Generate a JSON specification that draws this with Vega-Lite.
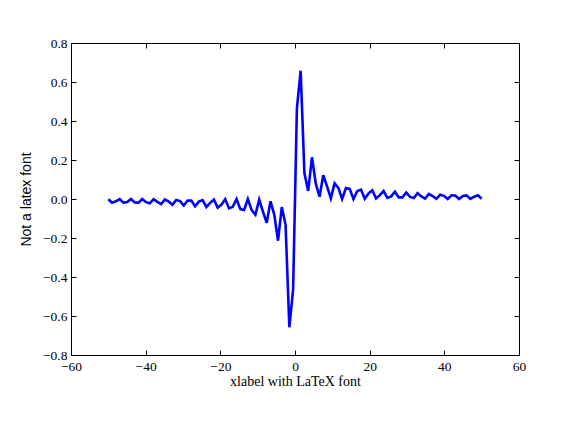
{
  "$schema": "https://vega.github.io/schema/vega-lite/v6.json",
  "width": 448,
  "height": 312,
  "autosize": {"type": "none"},
  "padding": {"left": 71, "top": 43, "right": 59, "bottom": 79},
  "background": "white",
  "config": {
    "view": {"stroke": "black", "strokeWidth": 1},
    "axis": {
      "domain": false,
      "grid": false,
      "ticks": true,
      "tickColor": "black",
      "tickSize": -5,
      "tickWidth": 1,
      "labelFont": "Liberation Serif",
      "labelFontSize": 13.5,
      "labelColor": "black",
      "labelFlush": false,
      "labelOverlap": false
    }
  },
  "data": {
    "values": [
      {"x": -50.000, "y": -0.0014},
      {"x": -48.990, "y": -0.0187},
      {"x": -47.980, "y": -0.0119},
      {"x": -46.970, "y": -0.0005},
      {"x": -45.960, "y": -0.0184},
      {"x": -44.949, "y": -0.0151},
      {"x": -43.939, "y": -0.0000},
      {"x": -42.929, "y": -0.0176},
      {"x": -41.919, "y": -0.0185},
      {"x": -40.909, "y": -0.0001},
      {"x": -39.899, "y": -0.0164},
      {"x": -38.889, "y": -0.0222},
      {"x": -37.879, "y": -0.0008},
      {"x": -36.869, "y": -0.0148},
      {"x": -35.859, "y": -0.0259},
      {"x": -34.848, "y": -0.0024},
      {"x": -33.838, "y": -0.0128},
      {"x": -32.828, "y": -0.0297},
      {"x": -31.818, "y": -0.0048},
      {"x": -30.808, "y": -0.0106},
      {"x": -29.798, "y": -0.0335},
      {"x": -28.788, "y": -0.0084},
      {"x": -27.778, "y": -0.0082},
      {"x": -26.768, "y": -0.0372},
      {"x": -25.758, "y": -0.0133},
      {"x": -24.747, "y": -0.0057},
      {"x": -23.737, "y": -0.0408},
      {"x": -22.727, "y": -0.0198},
      {"x": -21.717, "y": -0.0034},
      {"x": -20.707, "y": -0.0444},
      {"x": -19.697, "y": -0.0285},
      {"x": -18.687, "y": -0.0014},
      {"x": -17.677, "y": -0.0481},
      {"x": -16.667, "y": -0.0402},
      {"x": -15.657, "y": -0.0002},
      {"x": -14.646, "y": -0.0520},
      {"x": -13.636, "y": -0.0564},
      {"x": -12.626, "y": -0.0003},
      {"x": -11.616, "y": -0.0570},
      {"x": -10.606, "y": -0.0807},
      {"x": -9.596, "y": -0.0030},
      {"x": -8.586, "y": -0.0645},
      {"x": -7.576, "y": -0.1220},
      {"x": -6.566, "y": -0.0118},
      {"x": -5.556, "y": -0.0796},
      {"x": -4.545, "y": -0.2139},
      {"x": -3.535, "y": -0.0416},
      {"x": -2.525, "y": -0.1323},
      {"x": -1.515, "y": -0.6580},
      {"x": -0.505, "y": -0.4635},
      {"x": 0.505, "y": 0.4635},
      {"x": 1.515, "y": 0.6580},
      {"x": 2.525, "y": 0.1323},
      {"x": 3.535, "y": 0.0416},
      {"x": 4.545, "y": 0.2139},
      {"x": 5.556, "y": 0.0796},
      {"x": 6.566, "y": 0.0118},
      {"x": 7.576, "y": 0.1220},
      {"x": 8.586, "y": 0.0645},
      {"x": 9.596, "y": 0.0030},
      {"x": 10.606, "y": 0.0807},
      {"x": 11.616, "y": 0.0570},
      {"x": 12.626, "y": 0.0003},
      {"x": 13.636, "y": 0.0564},
      {"x": 14.646, "y": 0.0520},
      {"x": 15.657, "y": 0.0002},
      {"x": 16.667, "y": 0.0402},
      {"x": 17.677, "y": 0.0481},
      {"x": 18.687, "y": 0.0014},
      {"x": 19.697, "y": 0.0285},
      {"x": 20.707, "y": 0.0444},
      {"x": 21.717, "y": 0.0034},
      {"x": 22.727, "y": 0.0198},
      {"x": 23.737, "y": 0.0408},
      {"x": 24.747, "y": 0.0057},
      {"x": 25.758, "y": 0.0133},
      {"x": 26.768, "y": 0.0372},
      {"x": 27.778, "y": 0.0082},
      {"x": 28.788, "y": 0.0084},
      {"x": 29.798, "y": 0.0335},
      {"x": 30.808, "y": 0.0106},
      {"x": 31.818, "y": 0.0048},
      {"x": 32.828, "y": 0.0297},
      {"x": 33.838, "y": 0.0128},
      {"x": 34.848, "y": 0.0024},
      {"x": 35.859, "y": 0.0259},
      {"x": 36.869, "y": 0.0148},
      {"x": 37.879, "y": 0.0008},
      {"x": 38.889, "y": 0.0222},
      {"x": 39.899, "y": 0.0164},
      {"x": 40.909, "y": 0.0001},
      {"x": 41.919, "y": 0.0185},
      {"x": 42.929, "y": 0.0176},
      {"x": 43.939, "y": 0.0000},
      {"x": 44.949, "y": 0.0151},
      {"x": 45.960, "y": 0.0184},
      {"x": 46.970, "y": 0.0005},
      {"x": 47.980, "y": 0.0119},
      {"x": 48.990, "y": 0.0187},
      {"x": 50.000, "y": 0.0014}
    ]
  },
  "layer": [
    {
      "mark": {"type": "line", "color": "#0000ff", "strokeWidth": 2.6},
      "encoding": {
        "x": {
          "field": "x",
          "type": "quantitative",
          "scale": {"domain": [-60, 60], "nice": false, "zero": false},
          "axis": {
            "orient": "bottom",
            "values": [-60, -40, -20, 0, 20, 40, 60],
            "format": "d",
            "labelPadding": 9,
            "title": "xlabel with LaTeX font",
            "titleFont": "Liberation Serif",
            "titleFontSize": 14,
            "titleFontWeight": "normal",
            "titleColor": "black",
            "titlePadding": 2
          }
        },
        "y": {
          "field": "y",
          "type": "quantitative",
          "scale": {"domain": [-0.8, 0.8], "nice": false, "zero": false},
          "axis": {
            "orient": "left",
            "values": [-0.8, -0.6, -0.4, -0.2, 0, 0.2, 0.4, 0.6, 0.8],
            "format": ".1f",
            "labelPadding": 9,
            "title": "Not a latex font",
            "titleFont": "Liberation Sans",
            "titleFontSize": 14,
            "titleFontWeight": "normal",
            "titleColor": "black",
            "titleX": -38,
            "titleY": 156
          }
        }
      }
    },
    {
      "mark": {"type": "line", "strokeOpacity": 0},
      "encoding": {
        "x": {
          "field": "x",
          "type": "quantitative",
          "axis": {
            "orient": "top",
            "values": [-60, -40, -20, 0, 20, 40, 60],
            "labels": false,
            "title": null
          }
        },
        "y": {
          "field": "y",
          "type": "quantitative",
          "axis": {
            "orient": "right",
            "values": [-0.8, -0.6, -0.4, -0.2, 0, 0.2, 0.4, 0.6, 0.8],
            "labels": false,
            "title": null
          }
        }
      }
    }
  ],
  "resolve": {"axis": {"x": "independent", "y": "independent"}}
}
